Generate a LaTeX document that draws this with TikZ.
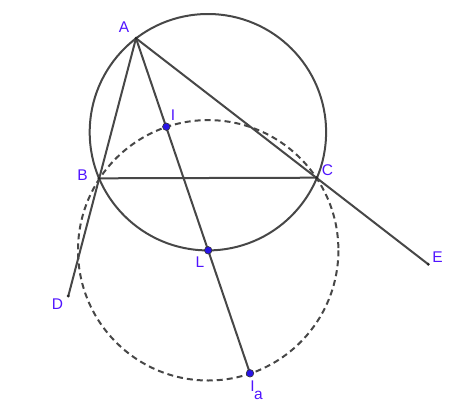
\documentclass[tikz,border=0pt]{standalone}
\usepackage{fontspec}
\setmainfont{Liberation Sans}
\begin{document}
\begin{tikzpicture}[x=1pt,y=-1pt,
  seg/.style={draw=black!72,line width=2pt},
  circ/.style={draw=black!72,line width=2pt},
  dcirc/.style={draw=black!72,line width=2pt,dash pattern=on 6pt off 4pt},
  smallpt/.style={circle,fill=black!85,inner sep=0pt,minimum size=3.2pt},
  bigpt/.style={circle,draw=black!80,line width=0.6pt,inner sep=0pt,minimum size=7.5pt},
  lab/.style={font=\fontsize{15.5}{15.5}\selectfont,inner sep=0pt}]
\definecolor{labc}{RGB}{80,20,255}
\definecolor{ptc}{RGB}{40,20,230}
\tikzset{lab/.append style={text=labc}, bigpt/.append style={fill=ptc}}
\useasboundingbox (0,0) rectangle (461,418);
\coordinate (A) at (136,38.3);
\coordinate (B) at (99,178.3);
\coordinate (C) at (316.7,177.7);
\coordinate (D) at (68.3,296);
\coordinate (E) at (428.3,264.3);
\coordinate (I) at (166.3,126.7);
\coordinate (L) at (208.2,250.3);
\coordinate (Ia) at (250,373.3);
\coordinate (O) at (207.9,132.2);
% circles
\draw[circ] (O) circle (118.2);
\draw[dcirc] (L) circle (130.2);
% segments
\draw[seg] (A) -- (D);
\draw[seg] (A) -- (E);
\draw[seg] (B) -- (C);
\draw[seg] (A) -- (Ia);
% points
\node[smallpt] (pA) at (A) {};
\node[smallpt] (pB) at (B) {};
\node[smallpt] (pC) at (C) {};
\node[smallpt] (pD) at (D) {};
\node[smallpt] (pE) at (E) {};
\node[bigpt] (pI) at (I) {};
\node[bigpt] (pL) at (L) {};
\node[bigpt] (pIa) at (Ia) {};
% labels
\node[lab] (lA) at (124,27.5) {A};
\node[lab] (lB) at (82.5,175) {B};
\node[lab] (lC) at (327.5,170) {C};
\node[lab] (lD) at (57.5,304) {D};
\node[lab] (lE) at (437.5,257) {E};
\node[lab] (lI) at (173,115) {I};
\node[lab] (lL) at (200,262) {L};
\node[lab] (lIa) at (252.5,386) {I};
\node[lab] (lIa2) at (258.5,395.5) {a};
\end{tikzpicture}
\end{document}
